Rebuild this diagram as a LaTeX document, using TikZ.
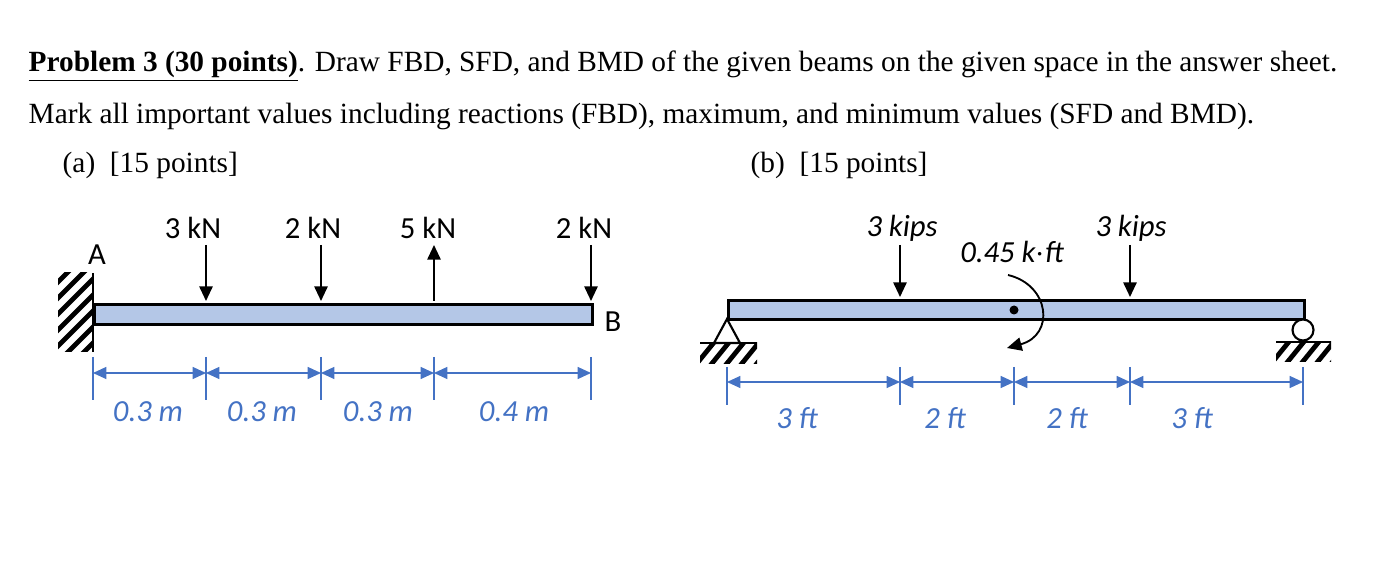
\documentclass[tikz,border=0pt]{standalone}
\usepackage{fontspec}
\setmainfont{Liberation Serif}
\newfontfamily\calfam{Carlito}
\usetikzlibrary{arrows.meta}
\definecolor{dimblue}{HTML}{4472C4}
\definecolor{beamfill}{HTML}{B4C7E7}
\begin{document}
\begin{tikzpicture}[x=0.75pt,y=-0.75pt,
  beam/.style={draw=black,line width=2pt,fill=beamfill},
  load/.style={line width=1.4pt,-{Triangle[length=11pt,width=10pt]}},
  dimline/.style={dimblue,line width=0.9pt,{Triangle[length=10pt,width=9pt]}-{Triangle[length=10pt,width=9pt]}},
  tick/.style={dimblue,line width=0.8pt},
  dimlab/.style={text=dimblue,font=\calfam\fontsize{23pt}{25pt}\selectfont\itshape},
  lab/.style={font=\calfam\fontsize{23pt}{25pt}\selectfont},
  hat/.style={line width=3.6pt,black}]
\useasboundingbox (0,0) rectangle (1396,580);
\node[anchor=west,font=\fontsize{22pt}{24pt}\selectfont] (t1) at (24,66) {\textbf{\underline{Problem 3 (30 points)}}. Draw FBD, SFD, and BMD of the given beams on the given space in the answer sheet.};
\node[anchor=west,font=\fontsize{22pt}{24pt}\selectfont] (t2) at (24,116) {Mark all important values including reactions (FBD), maximum, and minimum values (SFD and BMD).};
\node[anchor=west,font=\fontsize{22pt}{24pt}\selectfont] (ta) at (58,165) {(a)\ \ [15 points]};
\node[anchor=west,font=\fontsize{22pt}{24pt}\selectfont] (tb) at (746,165) {(b)\ \ [15 points]};
% ---- beam (a)
\begin{scope}
\clip (58,273) rectangle (93,352);
\foreach \i in {0,...,7} \draw[hat] (50,290+\i*16) -- (100,240+\i*16);
\end{scope}
\draw[line width=1.6pt] (93,273) -- (93,352);
\node[beam,minimum width=498*0.75pt,minimum height=20*0.75pt,inner sep=0pt,anchor=north west] (ba) at (93,303) {};
\node[lab] (A) at (97,255) {A};
\node[lab] (B) at (613,322) {B};
\coordinate (p1) at (206,301); \coordinate (p2) at (321,301); \coordinate (p3) at (434,301); \coordinate (p4) at (591,301);
\coordinate (q1) at (206,245); \coordinate (q2) at (321,245); \coordinate (q3) at (434,245); \coordinate (q4) at (591,245);
\draw[load] (q1) -- (p1); \draw[load] (q2) -- (p2); \draw[load] (p3) -- (q3); \draw[load] (q4) -- (p4);
\node[lab] (l1) at (193,228) {3 kN}; \node[lab] (l2) at (313,228) {2 kN};
\node[lab] (l3) at (428,228) {5 kN}; \node[lab] (l4) at (584,228) {2 kN};
\foreach \x in {93,206,321,434,591} \draw[tick] (\x,357) -- (\x,400);
\foreach \a/\b in {93/206,206/321,321/434,434/591} \draw[dimline] (\a,373) -- (\b,373);
\node[dimlab] (d1) at (148,412) {0.3 m}; \node[dimlab] (d2) at (262,412) {0.3 m};
\node[dimlab] (d3) at (378,412) {0.3 m}; \node[dimlab] (d4) at (514,412) {0.4 m};
% ---- beam (b)
\node[beam,minimum width=576*0.75pt,minimum height=19*0.75pt,inner sep=0pt,anchor=north west] (bb) at (727,299) {};
\draw[line width=1.6pt,fill=white] (727,319) -- (714,343) -- (740,343) -- cycle;
\begin{scope}
\clip (700,343) rectangle (757,364);
\foreach \i in {0,...,6} \draw[hat] (690+\i*15,372) -- (720+\i*15,335);
\end{scope}
\draw[line width=1.6pt] (700,343) -- (757,343);
\node[draw,circle,line width=1.6pt,fill=white,minimum size=21*0.75pt,inner sep=0pt] (roll) at (1303,330) {};
\begin{scope}
\clip (1276,342) rectangle (1331,362);
\foreach \i in {0,...,6} \draw[hat] (1266+\i*15,370) -- (1296+\i*15,333);
\end{scope}
\draw[line width=1.6pt] (1276,342) -- (1331,342);
\coordinate (r1) at (900,297); \coordinate (r2) at (1130,297);
\coordinate (s1) at (900,245); \coordinate (s2) at (1130,245);
\draw[load] (s1) -- (r1); \draw[load] (s2) -- (r2);
\node[lab,font=\calfam\fontsize{23pt}{25pt}\selectfont\itshape] (k1) at (902,228) {3 kips};
\node[lab,font=\calfam\fontsize{23pt}{25pt}\selectfont\itshape] (k2) at (1131,228) {3 kips};
\node[lab,font=\calfam\fontsize{23pt}{25pt}\selectfont\itshape] (mm) at (1012,252) {0.45 k$\cdot$ft};
\fill (1014,310) circle (4.5*0.75pt);
\draw[line width=1.4pt,-{Triangle[length=11pt,width=10pt]}] (1008,275) .. controls (1050,285) and (1055,335) .. (1007,348);
\foreach \x in {727,900,1014,1130,1303} \draw[tick] (\x,367) -- (\x,405);
\foreach \a/\b in {727/900,900/1014,1014/1130,1130/1303} \draw[dimline] (\a,382) -- (\b,382);
\node[dimlab] (e1) at (797,418) {3 ft}; \node[dimlab] (e2) at (945,418) {2 ft};
\node[dimlab] (e3) at (1067,418) {2 ft}; \node[dimlab] (e4) at (1192,418) {3 ft};
\end{tikzpicture}
\end{document}
